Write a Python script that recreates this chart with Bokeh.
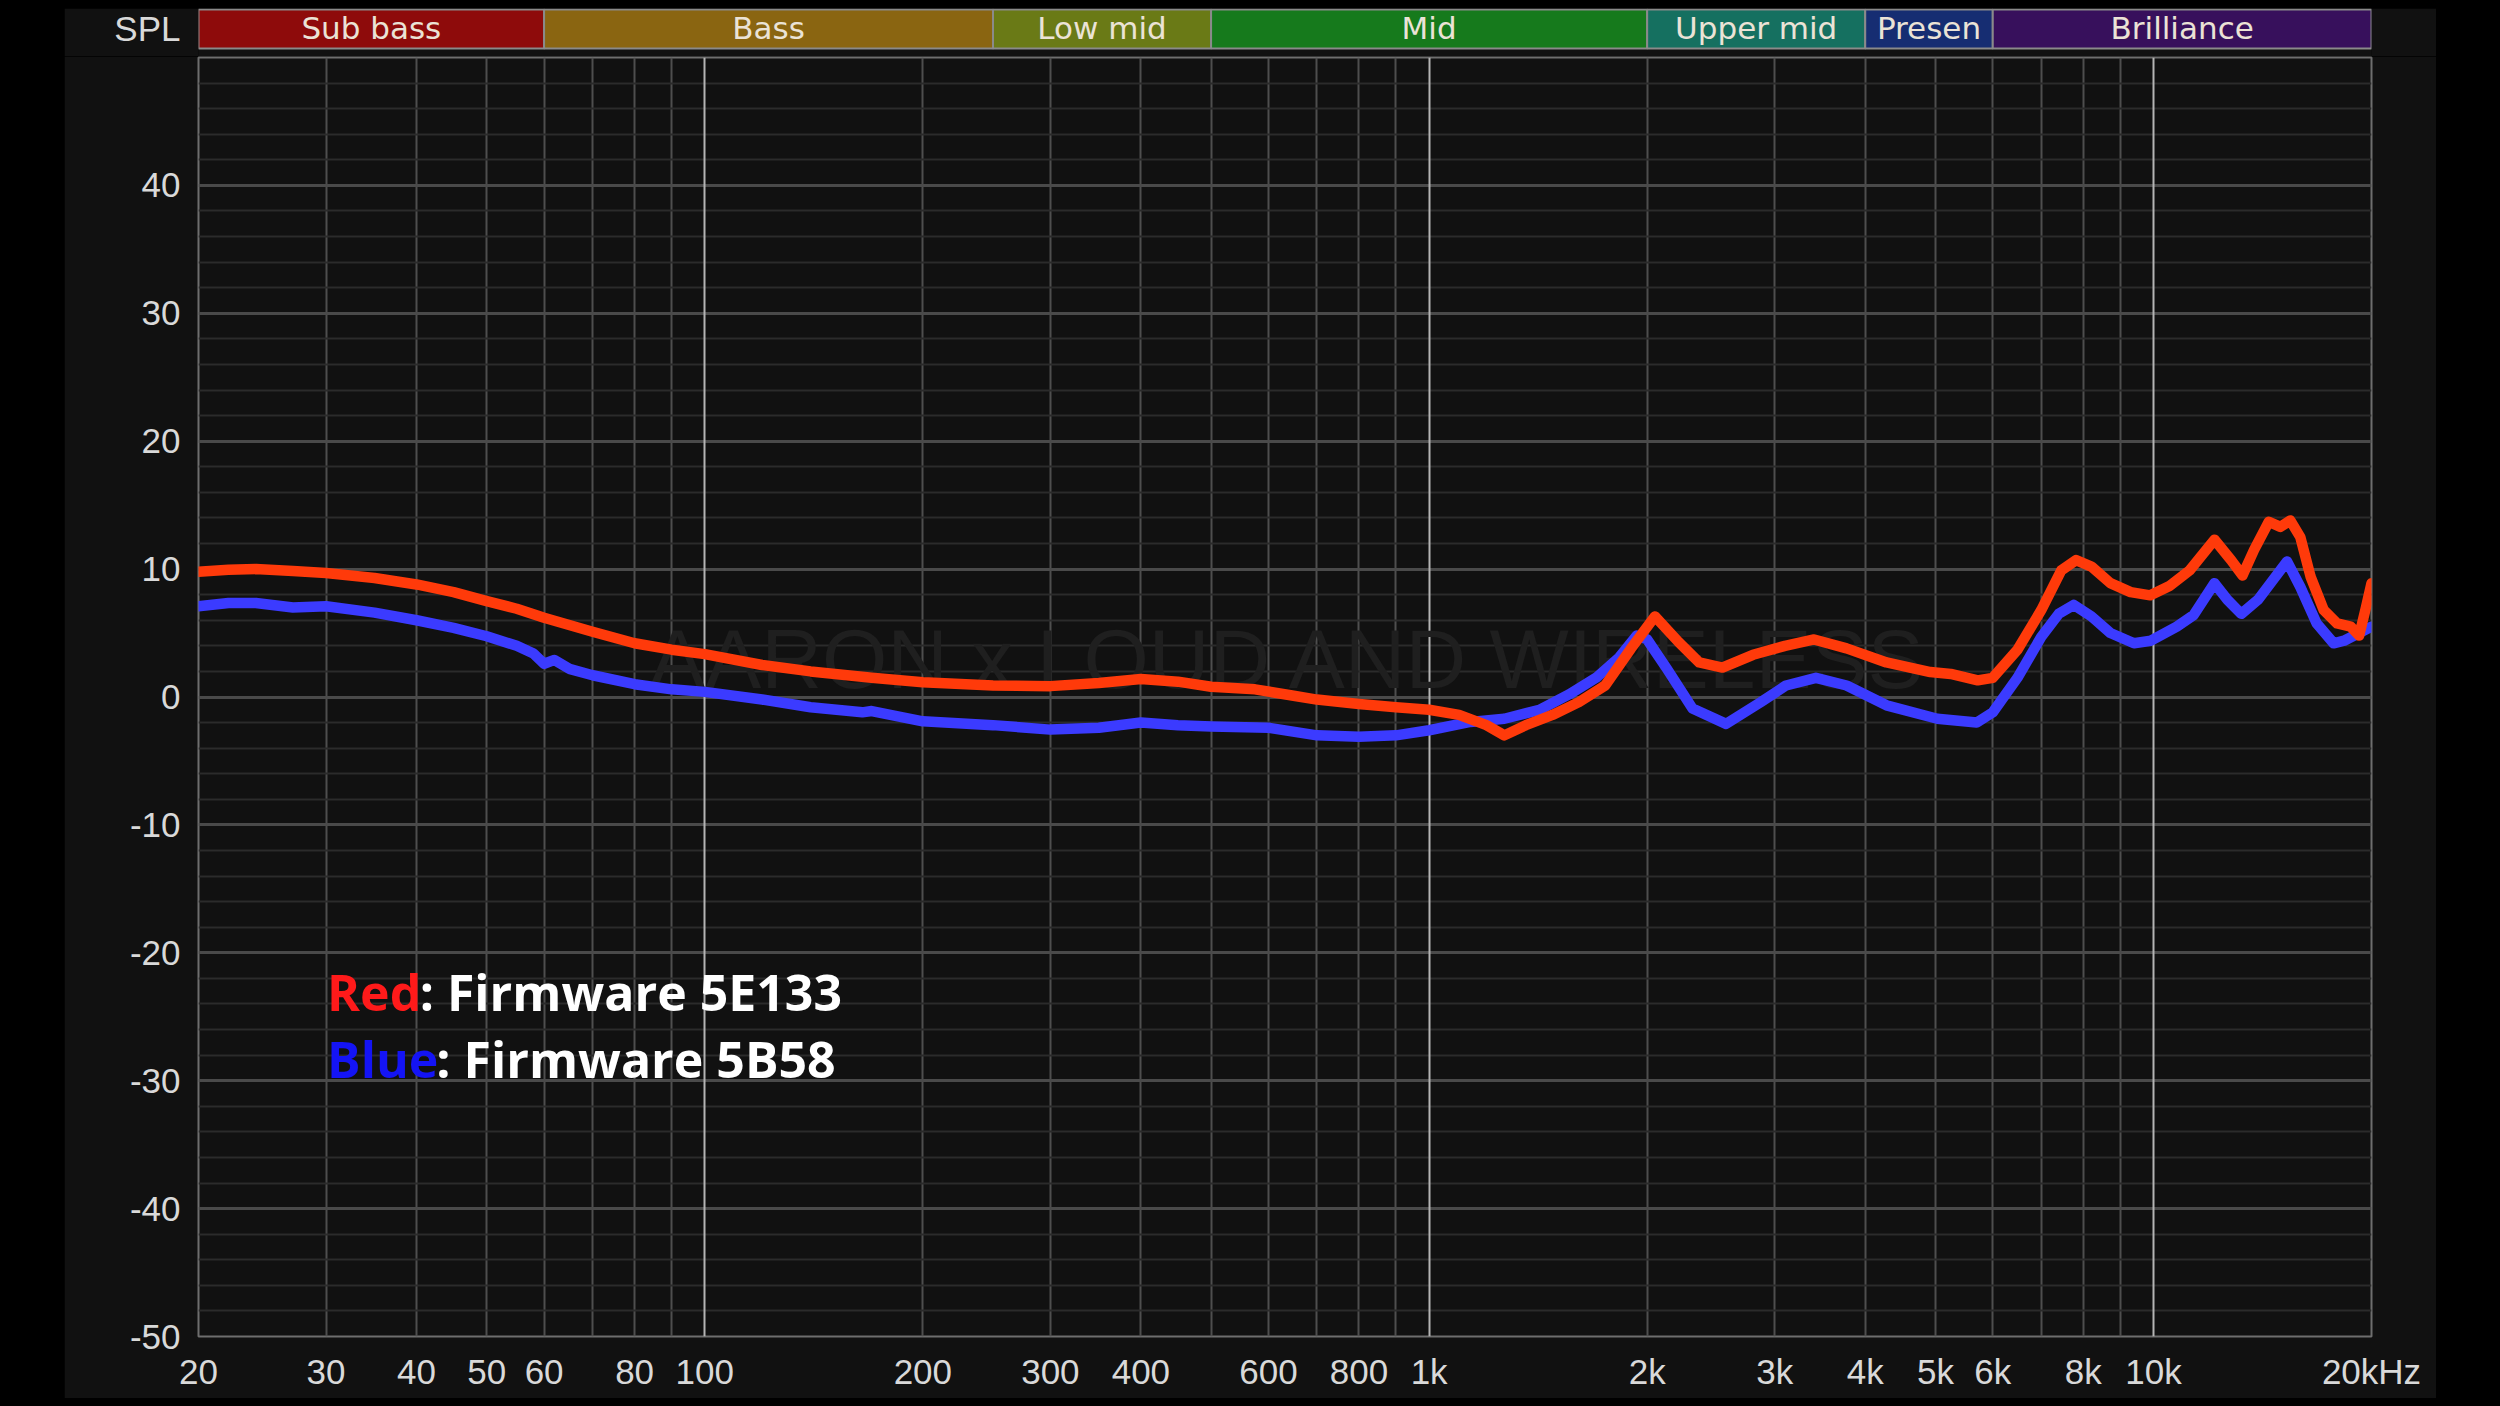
from bokeh.plotting import figure
from bokeh.models import Range1d, FixedTicker, Grid, Spacer
from bokeh.layouts import row, column
from bokeh.embed import file_html
from bokeh.resources import INLINE
from bokeh.core.properties import value

# ---------------- data ----------------
freq_red = [20, 22, 24, 27, 30, 35, 40, 45, 50, 55, 60, 70, 80, 90, 100, 120, 140, 170, 200,
            250, 300, 350, 400, 450, 500, 575, 650, 700, 800, 900, 1000, 1100, 1200, 1270,
            1360, 1480, 1610, 1750, 1900, 2050, 2210, 2360, 2540, 2800, 3100, 3400, 3770,
            4280, 4920, 5250, 5720, 6000, 6490, 7000, 7460, 7820, 8210, 8720, 9300, 9900,
            10540, 11220, 12140, 12800, 13270, 13770, 14430, 14970, 15450, 15950, 16480,
            17180, 17930, 18720, 19230, 19650, 20000]
db_red = [9.8, 9.95, 10.0, 9.85, 9.7, 9.3, 8.8, 8.2, 7.5, 6.9, 6.2, 5.1, 4.2, 3.7, 3.35, 2.5, 2.0, 1.5, 1.15,
          0.9, 0.85, 1.1, 1.4, 1.2, 0.8, 0.6, 0.1, -0.2, -0.55, -0.8, -1.0, -1.4, -2.2, -3.0,
          -2.2, -1.4, -0.4, 0.9, 3.8, 6.3, 4.3, 2.7, 2.3, 3.3, 4.0, 4.5, 3.8,
          2.7, 1.95, 1.8, 1.3, 1.5, 3.7, 6.8, 9.9, 10.7, 10.2, 8.9, 8.2, 7.95,
          8.7, 9.9, 12.3, 10.7, 9.5, 11.5, 13.7, 13.3, 13.8, 12.5, 9.4,
          6.8, 5.75, 5.5, 4.8, 7.0, 8.9]

freq_blue = [20, 22, 24, 27, 30, 35, 40, 45, 50, 55, 58, 60, 62, 65, 70, 80, 90, 100, 120, 140,
             165, 170, 200, 250, 300, 350, 400, 450, 500, 600, 700, 800, 900, 1000, 1140, 1270,
             1420, 1560, 1700, 1830, 1935, 2000, 2130, 2310, 2570, 2870, 3110, 3420, 3770,
             4280, 5030, 5700, 6000, 6490, 7000, 7400, 7760, 8210, 8720, 9400, 9920, 10770,
             11360, 12140, 12650, 13220, 13940, 15290, 15950, 16800, 17730, 18330, 20000]
db_blue = [7.1, 7.35, 7.35, 7.0, 7.1, 6.6, 6.0, 5.4, 4.75, 4.0, 3.4, 2.6, 2.9, 2.2, 1.7, 1.0, 0.6, 0.4, -0.2, -0.8,
           -1.2, -1.1, -1.9, -2.2, -2.55, -2.4, -2.0, -2.2, -2.3, -2.4, -3.0, -3.1, -3.0, -2.6, -1.95, -1.7,
           -1.0, 0.2, 1.5, 3.1, 4.8, 4.5, 2.2, -0.9, -2.1, -0.4, 0.9, 1.5, 0.9,
           -0.65, -1.7, -2.0, -1.2, 1.5, 4.7, 6.5, 7.2, 6.3, 5.0, 4.2, 4.4, 5.5,
           6.4, 8.9, 7.6, 6.5, 7.6, 10.6, 8.6, 5.75, 4.2, 4.4, 5.5]

band_names = ["Sub bass", "Bass", "Low mid", "Mid", "Upper mid", "Presen", "Brilliance"]
band_lo = [20, 60, 250, 500, 2000, 4000, 6000]
band_hi = [60, 250, 500, 2000, 4000, 6000, 20000]
band_colors = ["#8e0b0b", "#8a6511", "#6a7a16", "#167a1c", "#157060", "#162d72", "#37105c"]

x_ticks = [20, 30, 40, 50, 60, 80, 100, 200, 300, 400, 600, 800, 1000, 2000, 3000, 4000,
           5000, 6000, 8000, 10000, 20000]
x_tick_labels = ["20", "30", "40", "50", "60", "80", "100", "200", "300", "400", "600", "800",
                 "1k", "2k", "3k", "4k", "5k", "6k", "8k", "10k", "20kHz"]
grid_freqs = [30, 40, 50, 60, 70, 80, 90, 200, 300, 400, 500, 600, 700, 800, 900,
              2000, 3000, 4000, 5000, 6000, 7000, 8000, 9000]
major_grid_freqs = [100, 1000, 10000]
y_ticks = [-50, -40, -30, -20, -10, 0, 10, 20, 30, 40]
y_tick_labels = ["-50", "-40", "-30", "-20", "-10", "0", "10", "20", "30", "40"]
y_minor = [v for v in range(-48, 50, 2) if v % 10 != 0]

legend_words = ["Red", "Blue"]
legend_word_colors = ["#ff1a1a", "#1414f5"]
legend_rest = [": Firmware 5E133", ": Firmware 5B58"]
watermark = "AARON x LOUD AND WIRELESS"

# ---------------- layout ----------------
W = 2372
LEFT = 134
RIGHT = 65
BG = "#111111"
LABEL_FONT = "Liberation Sans"
LABEL_COLOR = "#d9d9d9"

xr = Range1d(20, 20000)

band = figure(width=W, height=48, x_axis_type="log", x_range=xr, y_range=Range1d(0, 48),
              output_backend="svg", toolbar_location=None, x_axis_location=None,
              min_border_left=LEFT, min_border_right=RIGHT, min_border_top=0, min_border_bottom=0,
              background_fill_color=BG, border_fill_color=BG, outline_line_color=None)
band.grid.visible = False
band.quad(left=band_lo, right=band_hi, bottom=8, top=47, fill_color=band_colors,
          line_color="#8a8a8a", line_width=2)
band_centers = [(a * b) ** 0.5 for a, b in zip(band_lo, band_hi)]
band.text(x=band_centers, y=[29] * len(band_names), text=band_names,
          text_align="center", text_baseline="middle", text_color="#ebe3d6",
          text_font=value("DejaVu Sans"), text_font_size="31px")
band.yaxis.ticker = FixedTicker(ticks=[29])
band.yaxis.major_label_overrides = {29: "SPL"}

main = figure(width=W, height=1342, x_axis_type="log", x_range=xr, y_range=Range1d(-50, 50),
              output_backend="svg", toolbar_location=None,
              min_border_left=LEFT, min_border_right=RIGHT, min_border_top=1, min_border_bottom=62,
              background_fill_color=BG, border_fill_color=BG,
              outline_line_color="#6e6e6e", outline_line_width=2)

# grids
main.xgrid.ticker = FixedTicker(ticks=grid_freqs)
main.xgrid.grid_line_color = "#4e4e4e"
main.xgrid.grid_line_width = 2
main.ygrid.ticker = FixedTicker(ticks=y_ticks)
main.ygrid.grid_line_color = "#4a4a4a"
main.ygrid.grid_line_width = 3
main.add_layout(Grid(dimension=1, ticker=FixedTicker(ticks=y_minor),
                     grid_line_color="#2b2b2b", grid_line_width=2))
main.add_layout(Grid(dimension=0, ticker=FixedTicker(ticks=major_grid_freqs),
                     grid_line_color="#b4b4b4", grid_line_width=2))

for fig in (band, main):
    for ax in fig.yaxis:
        ax.axis_line_color = None
        ax.major_tick_line_color = None
        ax.minor_tick_line_color = None
        ax.major_label_text_color = LABEL_COLOR
        ax.major_label_text_font = LABEL_FONT
        ax.major_label_text_font_size = "35px"
        ax.major_label_standoff = 12

main.yaxis.ticker = FixedTicker(ticks=y_ticks)
main.yaxis.major_label_overrides = {t: s for t, s in zip(y_ticks, y_tick_labels)}
xa = main.xaxis[0]
xa.ticker = FixedTicker(ticks=x_ticks)
xa.major_label_overrides = {t: s for t, s in zip(x_ticks, x_tick_labels)}
xa.axis_line_color = None
xa.major_tick_line_color = None
xa.minor_tick_line_color = None
xa.major_label_text_color = LABEL_COLOR
xa.major_label_text_font = LABEL_FONT
xa.major_label_text_font_size = "35px"
xa.major_label_standoff = 9

# watermark
main.text(x=[640], y=[3.0], text=[watermark], text_align="center", text_baseline="middle",
          text_color="#1f1f1f", text_font=value("Liberation Sans"), text_font_size="84px")

# curves
main.line(freq_blue, db_blue, line_color="#3b3bff", line_width=10.5, line_join="round", line_cap="round")
main.line(freq_red, db_red, line_color="#ff3a0a", line_width=10.5, line_join="round", line_cap="round")

# legend text
main.text(x=[30.1, 30.1], y=[-23.1, -28.3], text=legend_words, text_color=legend_word_colors,
          text_align="left", text_baseline="alphabetic",
          text_font=value("Open Sans"), text_font_style="bold", text_font_size="50px")
main.text(x=[40.4, 42.6], y=[-23.1, -28.3], text=legend_rest, text_color="#ffffff",
          text_align="left", text_baseline="alphabetic",
          text_font=value("Open Sans"), text_font_style="bold", text_font_size="50px")

layout = row(Spacer(width=64, height=1398), column(Spacer(width=W, height=8), band, main))

html = file_html(layout, INLINE)
html = html.replace("</head>", "<style>html,body{background:#000000;margin:0;}</style></head>", 1)
open("out.html", "w").write(html)
